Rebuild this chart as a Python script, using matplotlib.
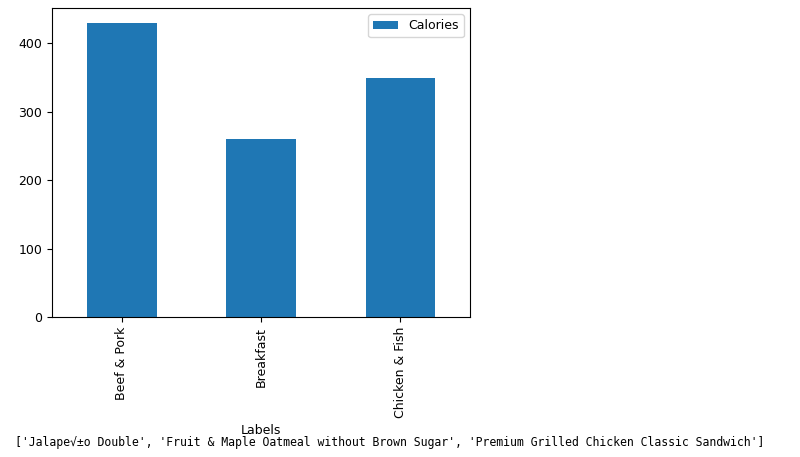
import matplotlib.pyplot as plt

# values
labels = ['Beef & Pork', 'Breakfast', 'Chicken & Fish']
calories = [430, 260, 350]
items = ['Jalape√±o Double', 'Fruit & Maple Oatmeal without Brown Sugar',
         'Premium Grilled Chicken Classic Sandwich']

plt.rcParams['font.size'] = 9

fig = plt.figure(figsize=(8, 4.57), dpi=100)
ax = fig.add_axes([0.065, 0.306, 0.5225, 0.676])

ax.bar(range(len(labels)), calories, width=0.5, color='#1f77b4', label='Calories')
ax.set_xticks(range(len(labels)))
ax.set_xticklabels(labels, rotation=90)
ax.set_xlim(-0.5, len(labels) - 0.5)
ax.set_xlabel('Labels')
ax.legend(loc='upper right')

# printed output underneath the chart
fig.text(0.019, 0.024, str(items), family='DejaVu Sans Mono', fontsize=8.3)

fig.savefig('out.png')
